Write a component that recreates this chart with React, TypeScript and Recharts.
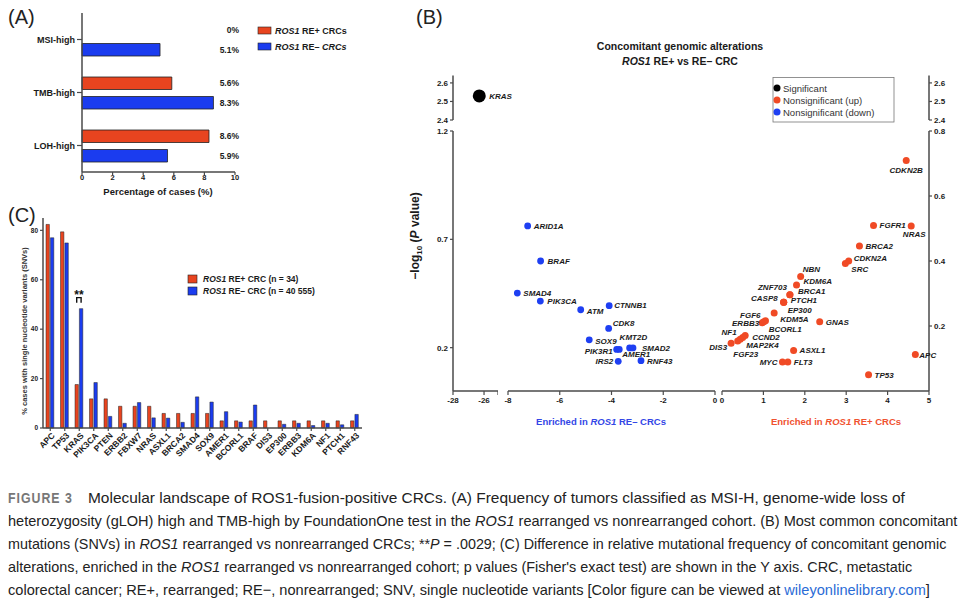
import React, { useLayoutEffect, useRef, useState } from "react";
import { BarChart, Bar, XAxis, YAxis, ScatterChart, Scatter, LabelList } from "recharts";

const FONT = "'Liberation Sans', Arial, Helvetica, sans-serif";
const CAPTION_FONT = "'Liberation Sans Narrow', 'Liberation Sans', Arial, sans-serif";
const RED = "#E8441F";
const BLUE = "#1B3CEF";
const DOT_RED = "#F04A25";
const DOT_BLUE = "#1E3FF2";
const INK = "#1a1a1a";
const AXIS = "#4a4a4a";

// (A) tumour status by cohort
const statusCategories = ["MSI-high", "TMB-high", "LOH-high"];
const statusRePos = [0, 5.87, 8.3];
const statusReNeg = [5.1, 8.59, 5.59];
const statusRePosText = ["0%", "5.6%", "8.6%"];
const statusReNegText = ["5.1%", "8.3%", "5.9%"];
const percentTicks = [0, 2, 4, 6, 8, 10];

// (C) SNV frequency
const snvGenes = ["APC", "TP53", "KRAS", "PIK3CA", "PTEN", "ERBB2", "FBXW7", "NRAS", "ASXL1", "BRCA2", "SMAD4", "SOX9", "AMER1", "BCORL1", "BRAF", "DIS3", "EP300", "ERBB3", "KDM6A", "NF1", "PTCH1", "RNF43"];
const snvRePos = [82.4, 79.4, 17.6, 11.8, 11.8, 8.8, 8.8, 8.8, 5.9, 5.9, 5.9, 5.9, 2.9, 2.9, 2.9, 2.9, 2.9, 2.9, 2.9, 2.9, 2.9, 2.9];
const snvReNeg = [77.0, 74.9, 48.3, 18.4, 4.7, 1.9, 10.3, 4.1, 4.0, 2.3, 12.6, 10.5, 6.6, 2.4, 9.3, 0, 1.5, 1.9, 1.0, 1.9, 1.3, 5.5];
const snvTicks = [0, 20, 40, 60, 80];

// (B) volcano: difference in frequency vs -log10(P)
const sigGenes = ["KRAS"];
const sigDiff = [-26.26];
const sigLogP = [2.53];

const downGenes = ["ARID1A", "BRAF", "SMAD4", "PIK3CA", "ATM", "CTNNB1", "CDK8", "SOX9", "KMT2D", "SMAD2", "PIK3R1", "AMER1", "IRS2", "RNF43"];
const downDiff = [-7.24, -6.74, -7.64, -6.75, -5.19, -4.09, -4.11, -4.86, -3.3, -3.17, -3.8, -3.7, -3.74, -2.86];
const downLogP = [0.762, 0.6, 0.452, 0.415, 0.375, 0.394, 0.289, 0.236, 0.199, 0.199, 0.192, 0.192, 0.137, 0.14];

const upGenes = ["CDKN2B", "FGFR1", "NRAS", "BRCA2", "CDKN2A", "SRC", "NBN", "KDM6A", "ZNF703", "BRCA1", "CASP8", "PTCH1", "EP300", "KDM5A", "GNAS", "FGF6", "ERBB3", "BCORL1", "CCND2", "NF1", "MAP2K4", "FGF23", "DIS3", "ASXL1", "APC", "MYC", "FLT3", "TP53"];
const upDiff = [4.45, 3.66, 4.57, 3.32, 3.06, 2.98, 1.9, 1.8, 1.64, 1.64, 1.49, 1.49, 1.49, 1.26, 2.36, 1.05, 0.97, 1.01, 0.56, 0.5, 0.44, 0.38, 0.22, 1.73, 4.67, 1.46, 1.59, 3.54];
const upLogP = [0.709, 0.509, 0.508, 0.446, 0.4, 0.392, 0.352, 0.326, 0.296, 0.296, 0.273, 0.273, 0.273, 0.24, 0.213, 0.216, 0.21, 0.213, 0.171, 0.165, 0.159, 0.154, 0.147, 0.125, 0.112, 0.089, 0.089, 0.05];

// label offset from the dot: dx, dy, anchor
const labelPlace: Record<string, [number, number, string]> = {
  KRAS: [10, 3, "start"],
  ARID1A: [6, 3, "start"], BRAF: [7, 3, "start"], SMAD4: [6, 3, "start"], PIK3CA: [7, 3, "start"],
  ATM: [6, 4, "start"], CTNNB1: [5, 2, "start"], CDK8: [4, -2, "start"], SOX9: [6, 4, "start"],
  KMT2D: [-10, -8, "start"], SMAD2: [9, 3, "start"], PIK3R1: [-4, 5, "end"], AMER1: [3, 8, "start"],
  IRS2: [-5, 3, "end"], RNF43: [6, 3, "start"],
  CDKN2B: [0, 12, "middle"], FGFR1: [6, 2, "start"], NRAS: [3, 11, "middle"], BRCA2: [6, 3, "start"],
  CDKN2A: [5, 0, "start"], SRC: [6, 8, "start"], NBN: [2, -5, "start"], KDM6A: [7, -1, "start"],
  ZNF703: [-3, -5, "end"], BRCA1: [8, -1, "start"], CASP8: [-6, -1, "end"], PTCH1: [7, 1, "start"],
  EP300: [4, 11, "start"], KDM5A: [6, 9, "start"], GNAS: [6, 3, "start"], FGF6: [-5, -3, "end"],
  ERBB3: [-3, 3, "end"], BCORL1: [5, 10, "start"], CCND2: [7, 5, "start"], NF1: [-6, -2, "end"],
  MAP2K4: [6, 9, "start"], FGF23: [8, 16, "middle"], DIS3: [-4, 7, "end"], ASXL1: [6, 3, "start"],
  APC: [4, 3, "start"], MYC: [-5, 3, "end"], FLT3: [6, 3, "start"], TP53: [6, 3, "start"],
};

const toPoints = (genes: string[], diff: number[], logp: number[]) =>
  genes.map((gene, i) => ({ gene, diff: diff[i], logp: logp[i] }));

const geneDot = (color: string, r: number, fs = 8) => (props: any) => {
  const { cx, cy, payload } = props;
  const [dx, dy, anchor] = labelPlace[payload.gene] ?? [6, 3, "start"];
  return (
    <g>
      <circle cx={cx} cy={cy} r={r} fill={color} />
      <text x={cx + dx} y={cy + dy} textAnchor={anchor as any} fontSize={fs} fontWeight={700}
        fontStyle="italic" fill={INK} fontFamily={FONT}>{payload.gene}</text>
    </g>
  );
};

// invisible series: only there so an axis segment gets drawn
const noShape = () => <g />;

const tickStyle = (size: number) => ({ fontSize: size, fontWeight: 700, fill: INK, fontFamily: FONT });
const axisLine = { stroke: AXIS, strokeWidth: 1.5 };
const tickLine = { stroke: AXIS, strokeWidth: 1.2 };

const Box = ({ left, top, children }: { left: number; top: number; children: React.ReactNode }) => (
  <div style={{ position: "absolute", left, top }}>{children}</div>
);

// caption line squeezed to the width it has in the figure
function FitLine({ left, baseline, width, children }: { left: number; baseline: number; width: number; children: React.ReactNode }) {
  const ref = useRef<HTMLDivElement>(null);
  const [scale, setScale] = useState(1);
  useLayoutEffect(() => {
    const w = ref.current ? ref.current.scrollWidth : 0;
    if (w > 0) setScale(width / w);
  }, [width]);
  return (
    <div ref={ref} style={{
      position: "absolute", left, top: baseline - 13, whiteSpace: "nowrap", lineHeight: "17px",
      fontFamily: CAPTION_FONT, fontSize: 15, color: "#222",
      transform: `scaleX(${scale})`, transformOrigin: "0 0",
    }}>{children}</div>
  );
}

export default function App() {
  const statusData = statusCategories.map((cat, i) => ({
    cat, pos: statusRePos[i], neg: statusReNeg[i], posText: statusRePosText[i], negText: statusReNegText[i],
  }));
  const snvData = snvGenes.map((gene, i) => ({ gene, pos: snvRePos[i], neg: snvReNeg[i] }));
  const sigData = toPoints(sigGenes, sigDiff, sigLogP);
  const downData = toPoints(downGenes, downDiff, downLogP);
  const upData = toPoints(upGenes, upDiff, upLogP);

  // both % labels hang off the RE- bar (the RE+ MSI bar is zero wide)
  const pctText = (p: any) => {
    const row = statusData[p.index];
    if (!row) return null;
    const cy = p.y + p.height / 2 + 3;
    const style = { fontSize: 8.5, fontWeight: 700, fill: INK, fontFamily: FONT };
    return (
      <g>
        <text x={239} y={cy - p.height - 7} textAnchor="end" {...style}>{row.posText}</text>
        <text x={239} y={cy} textAnchor="end" {...style}>{row.negText}</text>
      </g>
    );
  };

  const sigBracket = (p: any) => {
    if (p.index !== 2) return null;
    const right = p.x + p.width / 2;
    const left = p.x - 1 - p.width / 2;
    const lineY = p.y - 11;
    return (
      <g>
        <path d={`M${left},${lineY + 5}V${lineY}H${right}V${lineY + 5}`} fill="none" stroke="#111" strokeWidth={1.4} />
        <text x={(left + right) / 2} y={lineY + 1} textAnchor="middle" fontSize={12} fontWeight={700}
          fill="#111" fontFamily={FONT}>**</text>
      </g>
    );
  };

  const SlantTick = (p: any) => (
    <text x={p.x + 3} y={p.y + 1} transform={`rotate(-45 ${p.x + 3} ${p.y + 1})`} textAnchor="end"
      dy={3} fontSize={8.5} fontWeight={700} fill={INK} fontFamily={FONT}>{p.payload.value}</text>
  );

  return (
    <div style={{ position: "absolute", left: 0, top: 0, width: 967, height: 598, background: "#fff", overflow: "hidden" }}>
      {/* (A) */}
      <Box left={0} top={0}>
        <BarChart width={380} height={200} layout="vertical" data={statusData}
          margin={{ top: 13, right: 145, bottom: 8, left: 0 }} barSize={12.5} barGap={7}>
          <XAxis type="number" domain={[0, 10]} ticks={percentTicks} height={20} tickSize={3} tickMargin={0}
            tick={tickStyle(7.5)} axisLine={axisLine} tickLine={tickLine} />
          <YAxis type="category" dataKey="cat" width={82} tickSize={5}
            tick={tickStyle(9)} axisLine={axisLine} tickLine={tickLine} />
          <Bar dataKey="pos" fill={RED} stroke="#222" strokeWidth={0.8} isAnimationActive={false} />
          <Bar dataKey="neg" fill={BLUE} stroke="#222" strokeWidth={0.8} isAnimationActive={false}>
            <LabelList dataKey="negText" content={pctText} />
          </Bar>
        </BarChart>
      </Box>

      {/* (C) */}
      <Box left={0} top={200}>
        <BarChart width={362} height={270} data={snvData}
          margin={{ top: 18, right: 0, bottom: 0, left: 0 }} barSize={3.4} barGap={1}>
          <XAxis dataKey="gene" interval={0} height={42} tickSize={3} tick={<SlantTick />}
            axisLine={axisLine} tickLine={tickLine} />
          <YAxis domain={[0, 85]} ticks={snvTicks} width={43} tickSize={3}
            tick={tickStyle(6.5)} axisLine={axisLine} tickLine={tickLine} />
          <Bar dataKey="pos" fill={RED} stroke="#222" strokeWidth={0.5} isAnimationActive={false} />
          <Bar dataKey="neg" fill={BLUE} stroke="#222" strokeWidth={0.5} isAnimationActive={false}>
            <LabelList dataKey="neg" content={sigBracket} />
          </Bar>
        </BarChart>
      </Box>

      {/* (B) upper band: significant */}
      <Box left={413} top={70}>
        <ScatterChart width={556} height={58} margin={{ top: 5.5, right: 0, bottom: 8, left: 0 }}>
          <XAxis type="number" dataKey="diff" domain={[-28, 3.52]} hide height={0} />
          <YAxis yAxisId="l" type="number" dataKey="logp" domain={[2.4, 2.64]} allowDataOverflow
            ticks={[2.4, 2.5, 2.6]} width={40} tickSize={3} tick={tickStyle(8)} axisLine={axisLine}
            tickLine={tickLine} interval={0} />
          <YAxis yAxisId="r" orientation="right" type="number" dataKey="logp" domain={[2.4, 2.64]} allowDataOverflow
            ticks={[2.4, 2.5, 2.6]} width={40} tickSize={3} tick={tickStyle(8)} axisLine={axisLine}
            tickLine={tickLine} interval={0} />
          <Scatter yAxisId="l" data={sigData} shape={geneDot("#000", 6.5)} isAnimationActive={false} />
          <Scatter yAxisId="r" data={sigData} shape={noShape} isAnimationActive={false} />
        </ScatterChart>
      </Box>

      {/* (B) lower band, left segment */}
      <Box left={413} top={121}>
        <ScatterChart width={85} height={300} margin={{ top: 10, right: 0, bottom: 0, left: 0 }}>
          <XAxis type="number" dataKey="diff" domain={[-28, -25.1]} ticks={[-28, -26, -25.1]} interval={0}
            tickFormatter={(v: number) => (Number.isInteger(v) ? String(v) : "")}
            height={30} tickSize={4} tick={tickStyle(8)} axisLine={axisLine} tickLine={tickLine} />
          <YAxis type="number" dataKey="logp" domain={[0, 1.2]} allowDataOverflow ticks={[0.2, 0.7, 1.2]}
            width={40} tickSize={3} tick={tickStyle(8)} axisLine={axisLine} tickLine={tickLine} interval={0} />
          <Scatter data={sigData} shape={noShape} isAnimationActive={false} />
        </ScatterChart>
      </Box>

      {/* (B) lower band, enriched in RE- */}
      <Box left={493} top={121}>
        <ScatterChart width={237} height={300} margin={{ top: 10, right: 15, bottom: 0, left: 15 }}>
          <XAxis type="number" dataKey="diff" domain={[-8, 0]} ticks={[-8, -6, -4, -2, 0]} interval={0}
            height={30} tickSize={4} tick={tickStyle(8)} axisLine={axisLine} tickLine={tickLine} />
          <YAxis type="number" dataKey="logp" domain={[0, 1.2]} hide width={0} />
          <Scatter data={downData} shape={geneDot(DOT_BLUE, 3.4)} isAnimationActive={false} />
        </ScatterChart>
      </Box>

      {/* (B) lower band, enriched in RE+ */}
      <Box left={692} top={121}>
        <ScatterChart width={277} height={300} margin={{ top: 10, right: 0, bottom: 0, left: 30 }}>
          <XAxis type="number" dataKey="diff" domain={[0, 5]} ticks={[0, 1, 2, 3, 4, 5]} interval={0}
            height={30} tickSize={4} tick={tickStyle(8)} axisLine={axisLine} tickLine={tickLine} />
          <YAxis orientation="right" type="number" dataKey="logp" domain={[0, 0.8]} ticks={[0.2, 0.4, 0.6, 0.8]}
            width={40} tickSize={3} tick={tickStyle(8)} axisLine={axisLine} tickLine={tickLine} interval={0} />
          <Scatter data={upData} shape={geneDot(DOT_RED, 3.5)} isAnimationActive={false} />
        </ScatterChart>
      </Box>

      {/* annotations */}
      <svg width={967} height={480} style={{ position: "absolute", left: 0, top: 0, pointerEvents: "none" }}
        fontFamily={FONT}>
        <text x={8} y={24} fontSize={20} fill="#222">(A)</text>
        <text x={416} y={24} fontSize={20} fill="#222">(B)</text>
        <text x={8} y={222} fontSize={20} fill="#222">(C)</text>

        {/* A legend + axis title */}
        <rect x={258} y={27} width={13} height={7} fill={RED} stroke="#222" strokeWidth={0.6} />
        <rect x={258} y={43} width={13} height={7} fill={BLUE} stroke="#222" strokeWidth={0.6} />
        <text x={275} y={34} fontSize={9} fontWeight={700} fill={INK}>
          <tspan fontStyle="italic">ROS1</tspan> RE+ CRCs</text>
        <text x={275} y={50} fontSize={9} fontWeight={700} fill={INK}>
          <tspan fontStyle="italic">ROS1</tspan> RE– <tspan fontStyle="italic">CRCs</tspan></text>
        <text x={158} y={195} textAnchor="middle" fontSize={9.5} fontWeight={700} fill={INK}>Percentage of cases (%)</text>

        {/* C legend + axis title */}
        <rect x={188} y={275} width={9} height={8} fill={RED} stroke="#222" strokeWidth={0.6} />
        <rect x={188} y={287} width={9} height={8} fill={BLUE} stroke="#222" strokeWidth={0.6} />
        <text x={203} y={282} fontSize={8.5} fontWeight={700} fill={INK}>
          <tspan fontStyle="italic">ROS1</tspan> RE+ CRC (n = 34)</text>
        <text x={203} y={294} fontSize={8.5} fontWeight={700} fill={INK}>
          <tspan fontStyle="italic">ROS1</tspan> RE–  CRC (n = 40 555)</text>
        <text transform="translate(27 331) rotate(-90)" textAnchor="middle" fontSize={7.5} fontWeight={700}
          fill="#333">% cases with single nucleotide variants (SNVs)</text>

        {/* B title, legend, axis titles */}
        <text x={680} y={50} textAnchor="middle" fontSize={10.5} fontWeight={700} fill={INK}>Concomitant genomic alterations</text>
        <text x={680} y={65} textAnchor="middle" fontSize={10.5} fontWeight={700} fill={INK}>
          <tspan fontStyle="italic">ROS1</tspan> RE+ vs RE– CRC</text>
        <rect x={773} y={77.5} width={121} height={44.5} fill="#fff" stroke="#777" strokeWidth={0.8} />
        <circle cx={777} cy={88} r={3.5} fill="#000" />
        <circle cx={777} cy={100} r={3.5} fill={DOT_RED} />
        <circle cx={777} cy={112} r={3.5} fill={DOT_BLUE} />
        <text x={783} y={91.5} fontSize={9.5} fill="#333">Significant</text>
        <text x={783} y={103.5} fontSize={9.5} fill="#333">Nonsignificant (up)</text>
        <text x={783} y={115.5} fontSize={9.5} fill="#333">Nonsignificant (down)</text>
        <text transform="translate(419 236) rotate(-90)" textAnchor="middle" fontSize={12} fontWeight={700} fill={INK}>
          −log<tspan fontSize={8} dy={3}>10</tspan><tspan dy={-3}> (</tspan><tspan fontStyle="italic">P</tspan> value)</text>
        <text x={601} y={425} textAnchor="middle" fontSize={9.5} fontWeight={700} fill="#3346E6">
          Enriched in <tspan fontStyle="italic">ROS1</tspan> RE– CRCs</text>
        <text x={836} y={425} textAnchor="middle" fontSize={9.5} fontWeight={700} fill="#F0522F">
          Enriched in <tspan fontStyle="italic">ROS1</tspan> RE+ CRCs</text>
      </svg>

      {/* caption */}
      <FitLine left={8} baseline={502} width={65}>
        <span style={{ color: "#777", fontWeight: 700, letterSpacing: 1.2 }}>FIGURE 3</span>
      </FitLine>
      <FitLine left={88} baseline={502} width={817}>
        Molecular landscape of ROS1-fusion-positive CRCs. (A) Frequency of tumors classified as MSI-H, genome-wide loss of
      </FitLine>
      <FitLine left={8} baseline={525} width={949}>
        heterozygosity (gLOH) high and TMB-high by FoundationOne test in the <i>ROS1</i> rearranged vs nonrearranged cohort. (B) Most common concomitant
      </FitLine>
      <FitLine left={8} baseline={548} width={938}>
        mutations (SNVs) in <i>ROS1</i> rearranged vs nonrearranged CRCs; **<i>P</i> = .0029; (C) Difference in relative mutational frequency of concomitant genomic
      </FitLine>
      <FitLine left={8} baseline={571} width={904}>
        alterations, enriched in the <i>ROS1</i> rearranged vs nonrearranged cohort; p values (Fisher's exact test) are shown in the Y axis. CRC, metastatic
      </FitLine>
      <FitLine left={8} baseline={594} width={922}>
        colorectal cancer; RE+, rearranged; RE−, nonrearranged; SNV, single nucleotide variants [Color figure can be viewed at <span style={{ color: "#2B6CD6" }}>wileyonlinelibrary.com</span>]
      </FitLine>
    </div>
  );
}
